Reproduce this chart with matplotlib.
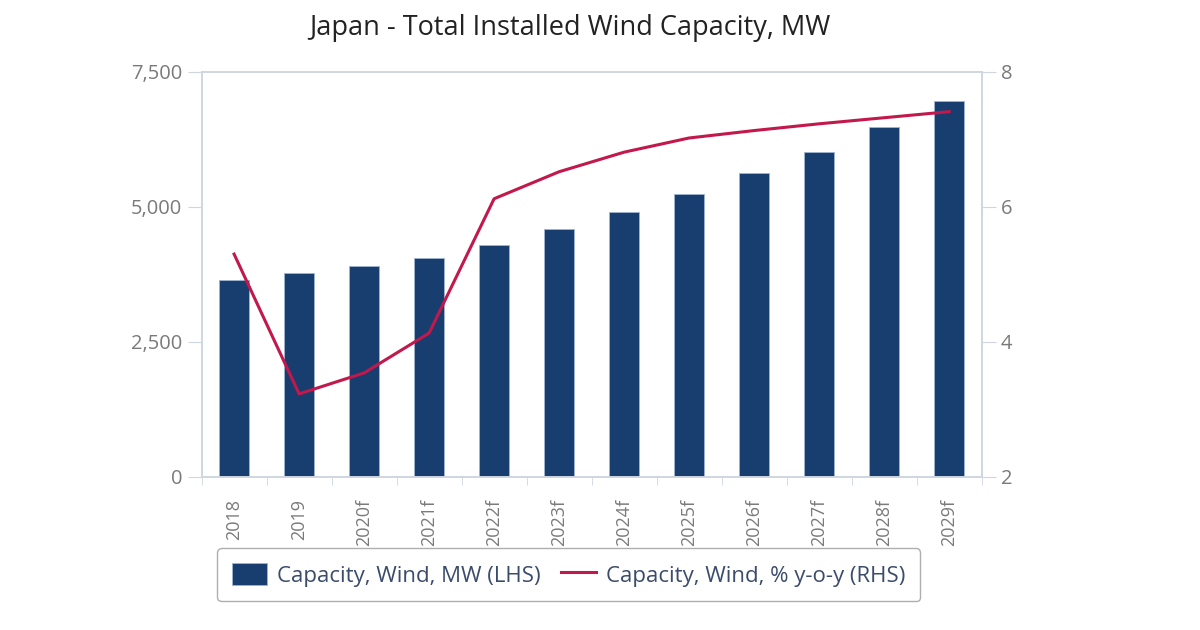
import numpy as np
import matplotlib.pyplot as plt
from matplotlib.ticker import FuncFormatter, FixedLocator

## Data
YEARS = ['2018', '2019', '2020f', '2021f', '2022f', '2023f',
         '2024f', '2025f', '2026f', '2027f', '2028f', '2029f']
CAPACITY_MW = [3650, 3780, 3910, 4050, 4300, 4590, 4900, 5240, 5630, 6020, 6480, 6960]
GROWTH_PCT = [5.30, 3.23, 3.54, 4.13, 6.12, 6.52, 6.81, 7.02, 7.13, 7.23, 7.32, 7.41]

## Style
BAR_BLUE = '#183e6f'
LINE_RED = '#c2184b'
TICK_GREY = '#7a7a7a'
SPINE_GREY = '#cfd6e0'
plt.rcParams['font.family'] = ['Open Sans', 'DejaVu Sans']

fig = plt.figure(figsize=(12, 6.3), dpi=100)
ax = fig.add_axes([0.168, 0.243, 0.650, 0.643])
ax2 = ax.twinx()

x = np.arange(len(YEARS))
bars = ax.bar(x, CAPACITY_MW, width=0.47, color=BAR_BLUE, edgecolor='#9fb4cf',
              linewidth=0.6, zorder=2, label='Capacity, Wind, MW (LHS)')
line, = ax2.plot(x, GROWTH_PCT, color=LINE_RED, lw=2.2, zorder=3,
                 label='Capacity, Wind, % y-o-y (RHS)')

## Axes ranges
ax.set_xlim(-0.5, len(YEARS) - 0.5)
ax.set_ylim(0, 7500)
ax2.set_ylim(2, 8)
ax.set_yticks([0, 2500, 5000, 7500])
ax.yaxis.set_major_formatter(FuncFormatter(lambda v, p: f'{int(v):,}'))
ax2.set_yticks([2, 4, 6, 8])

ax.set_xticks(x)
ax.set_xticklabels(YEARS, rotation=90, fontsize=13, color=TICK_GREY)
ax.xaxis.set_minor_locator(FixedLocator(np.arange(-0.5, len(YEARS), 1.0)))
ax.tick_params(axis='x', which='major', length=0, pad=16)
ax.tick_params(axis='x', which='minor', length=6, color=SPINE_GREY)
ax.tick_params(axis='y', length=10, color=SPINE_GREY, labelsize=14.5, labelcolor=TICK_GREY, pad=4)
ax2.tick_params(axis='y', length=10, color=SPINE_GREY, labelsize=14.5, labelcolor=TICK_GREY, pad=4)

for a in (ax, ax2):
    for s in a.spines.values():
        s.set_color(SPINE_GREY)
        s.set_linewidth(1.2)
ax.set_zorder(ax2.get_zorder() - 1)
ax2.patch.set_visible(False)

## Title
fig.text(0.475, 0.955, 'Japan - Total Installed Wind Capacity, MW',
         ha='center', va='center', fontsize=19.5, color='#222222')

## Legend
leg = fig.legend(handles=[bars, line], loc='center', bbox_to_anchor=(0.474, 0.088),
                 ncol=2, frameon=True, fontsize=16, handlelength=1.6,
                 handleheight=1.2, columnspacing=0.9, handletextpad=0.45,
                 borderpad=0.65, fancybox=True, edgecolor='#9a9a9a')
for t in leg.get_texts():
    t.set_color('#3b4c6b')
leg.get_frame().set_linewidth(1.0)

fig.savefig('out.png', dpi=100)
